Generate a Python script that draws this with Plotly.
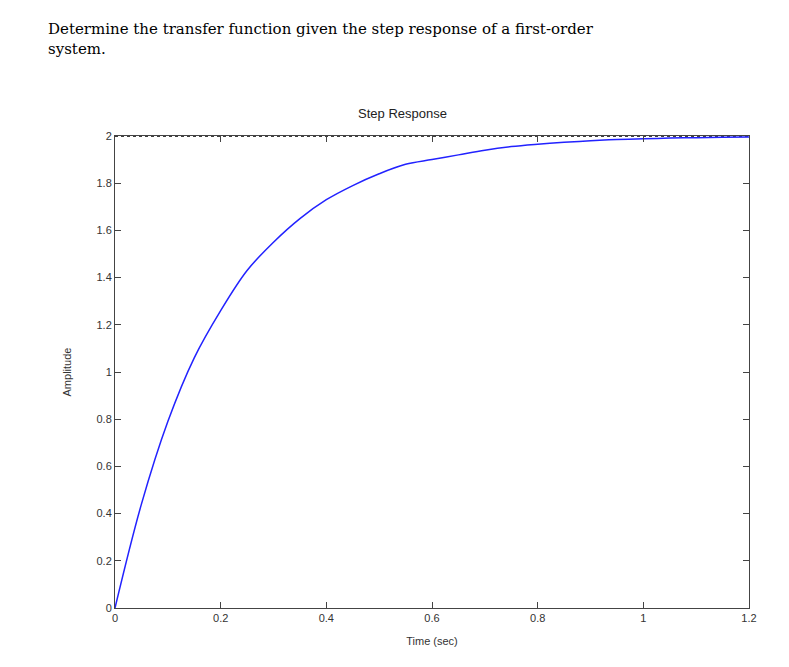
import plotly.graph_objects as go

# step response values
t = [0, 0.05, 0.1, 0.15, 0.2, 0.25, 0.3, 0.35, 0.4, 0.45, 0.5, 0.55, 0.6,
     0.65, 0.7, 0.75, 0.8, 0.85, 0.9, 0.95, 1.0, 1.05, 1.1, 1.15, 1.2]
amp = [0, 0.44, 0.79, 1.06, 1.26, 1.43, 1.55, 1.65, 1.73, 1.79, 1.84, 1.88, 1.90,
       1.92, 1.94, 1.955, 1.965, 1.973, 1.98, 1.985, 1.988, 1.991, 1.993, 1.995, 1.996]
final_value = 2

xticks = [0, 0.2, 0.4, 0.6, 0.8, 1, 1.2]
yticks = [0, 0.2, 0.4, 0.6, 0.8, 1, 1.2, 1.4, 1.6, 1.8, 2]

fig = go.Figure()
fig.add_trace(go.Scatter(x=[0, 1.2], y=[final_value, final_value], mode="lines",
                         line=dict(color="black", width=1.5, dash="dot"), hoverinfo="skip"))
fig.add_trace(go.Scatter(x=t, y=amp, mode="lines", line=dict(color="#2222ff", width=1.5, shape="spline")))

tickfont = dict(family="Liberation Sans Narrow, Arial Narrow, sans-serif", size=11, color="#333")
axis = dict(showgrid=False, zeroline=False, showline=True, linecolor="#444", mirror="ticks",
            ticks="inside", ticklen=6, tickcolor="#444", tickfont=tickfont, automargin=False)

fig.update_layout(
    width=789, height=667, showlegend=False,
    plot_bgcolor="white", paper_bgcolor="white",
    margin=dict(l=107, r=48, t=128, b=67, autoexpand=False),
    xaxis=dict(axis, range=[0, 1.2], tickvals=xticks, ticktext=[str(v) for v in xticks],
               title=dict(text="Time (sec)", font=tickfont, standoff=14)),
    yaxis=dict(axis, range=[0, 2], tickvals=yticks, ticktext=[str(v) for v in yticks],
               title=dict(text="Amplitude", font=tickfont, standoff=22)),
    title=dict(text="Step Response", font=dict(family="Liberation Sans Narrow, Arial Narrow, sans-serif", size=13, color="#222"),
               x=0.5, xanchor="center", y=1 - 105 / 667, yanchor="middle"),
    annotations=[dict(text="Determine the transfer function given the step response of a first-order<br>system.",
                      xref="paper", yref="paper", x=(38 - 107) / 634, y=1 + (128 - 10) / 472,
                      xanchor="left", yanchor="top", align="left", showarrow=False,
                      font=dict(family="DejaVu Serif", size=15, color="black"))],
)

fig.write_html("out.html")
